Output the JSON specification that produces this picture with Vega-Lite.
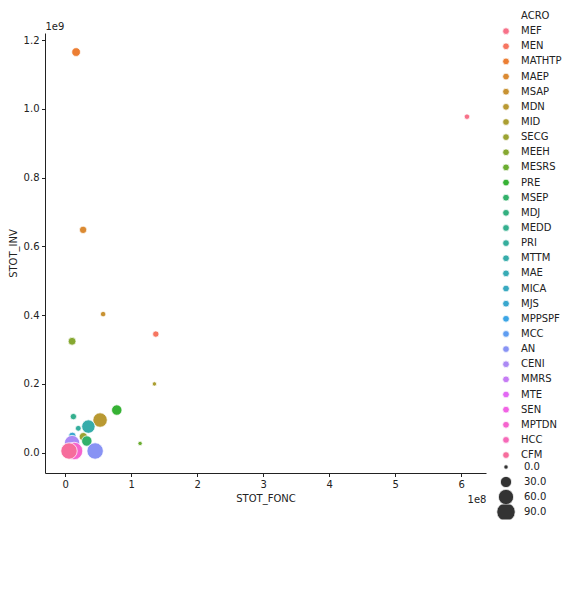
{
  "$schema": "https://vega.github.io/schema/vega-lite/v6.json",
  "width": 441,
  "height": 440,
  "autosize": "none",
  "padding": {"left": 45, "top": 33, "right": 87, "bottom": 125},
  "background": "white",
  "config": {
    "view": {"stroke": null},
    "font": "DejaVu Sans",
    "axis": {
      "grid": false,
      "domainColor": "#222222",
      "domainWidth": 1,
      "tickColor": "#222222",
      "tickWidth": 1,
      "tickSize": 3.5,
      "labelColor": "#222222",
      "labelFont": "DejaVu Sans",
      "labelFontSize": 10,
      "titleColor": "#222222",
      "titleFont": "DejaVu Sans",
      "titleFontSize": 10,
      "titleFontWeight": "normal"
    },
    "legend": {
      "labelFont": "DejaVu Sans",
      "labelFontSize": 10,
      "labelColor": "#222222",
      "padding": 0
    }
  },
  "data": {
    "values": [
      {"ACRO": "MEF", "STOT_FONC": 608600000, "STOT_INV": 977000000, "size": 3},
      {"ACRO": "MEN", "STOT_FONC": 137400000, "STOT_INV": 345000000, "size": 6},
      {"ACRO": "MATHTP", "STOT_FONC": 16700000, "STOT_INV": 1165000000, "size": 16},
      {"ACRO": "MAEP", "STOT_FONC": 27300000, "STOT_INV": 648000000, "size": 10},
      {"ACRO": "MSAP", "STOT_FONC": 57600000, "STOT_INV": 403000000, "size": 3},
      {"ACRO": "MDN", "STOT_FONC": 53000000, "STOT_INV": 95000000, "size": 53},
      {"ACRO": "MID", "STOT_FONC": 135300000, "STOT_INV": 200000000, "size": 0},
      {"ACRO": "SECG", "STOT_FONC": 27700000, "STOT_INV": 46500000, "size": 14},
      {"ACRO": "MEEH", "STOT_FONC": 10600000, "STOT_INV": 324000000, "size": 12},
      {"ACRO": "MESRS", "STOT_FONC": 113600000, "STOT_INV": 27000000, "size": 0},
      {"ACRO": "PRE", "STOT_FONC": 78300000, "STOT_INV": 124000000, "size": 25},
      {"ACRO": "MSEP", "STOT_FONC": 32900000, "STOT_INV": 34000000, "size": 25},
      {"ACRO": "MDJ", "STOT_FONC": 42400000, "STOT_INV": 8000000, "size": 10},
      {"ACRO": "MEDD", "STOT_FONC": 12600000, "STOT_INV": 105000000, "size": 6},
      {"ACRO": "PRI", "STOT_FONC": 20000000, "STOT_INV": 71000000, "size": 4},
      {"ACRO": "MTTM", "STOT_FONC": 35300000, "STOT_INV": 76000000, "size": 45},
      {"ACRO": "MAE", "STOT_FONC": 7600000, "STOT_INV": 31000000, "size": 5},
      {"ACRO": "MICA", "STOT_FONC": 19700000, "STOT_INV": 8000000, "size": 4},
      {"ACRO": "MJS", "STOT_FONC": 11000000, "STOT_INV": 49000000, "size": 10},
      {"ACRO": "MPPSPF", "STOT_FONC": 12100000, "STOT_INV": 19500000, "size": 6},
      {"ACRO": "MCC", "STOT_FONC": 48500000, "STOT_INV": 1000000, "size": 6},
      {"ACRO": "AN", "STOT_FONC": 45500000, "STOT_INV": 5000000, "size": 70},
      {"ACRO": "CENI", "STOT_FONC": 10600000, "STOT_INV": 28000000, "size": 61},
      {"ACRO": "MMRS", "STOT_FONC": 15200000, "STOT_INV": 2000000, "size": 10},
      {"ACRO": "MTE", "STOT_FONC": 12100000, "STOT_INV": 1000000, "size": 8},
      {"ACRO": "SEN", "STOT_FONC": 18200000, "STOT_INV": 8000000, "size": 15},
      {"ACRO": "MPTDN", "STOT_FONC": 13600000, "STOT_INV": 5000000, "size": 80},
      {"ACRO": "HCC", "STOT_FONC": 3000000, "STOT_INV": 2000000, "size": 10},
      {"ACRO": "CFM", "STOT_FONC": 6000000, "STOT_INV": 5000000, "size": 70}
    ]
  },
  "layer": [
    {
      "mark": {"type": "point", "filled": true, "opacity": 1, "stroke": "white", "strokeWidth": 0.75, "shape": "circle"},
      "encoding": {
        "x": {
          "field": "STOT_FONC",
          "type": "quantitative",
          "scale": {"domain": [-30400000, 637400000], "nice": false, "zero": false},
          "axis": {
            "title": "STOT_FONC",
            "orient": "bottom",
            "values": [0, 100000000, 200000000, 300000000, 400000000, 500000000, 600000000],
            "labelExpr": "format(datum.value / 1e8, 'd')",
            "labelPadding": 2.5,
            "titlePadding": 4
          }
        },
        "y": {
          "field": "STOT_INV",
          "type": "quantitative",
          "scale": {"domain": [-59000000, 1220400000], "nice": false, "zero": false},
          "axis": {
            "title": "STOT_INV",
            "orient": "left",
            "values": [0, 200000000, 400000000, 600000000, 800000000, 1000000000, 1200000000],
            "labelExpr": "format(datum.value / 1e9, '.1f')",
            "labelPadding": 2.5,
            "titlePadding": 5
          }
        },
        "color": {
          "field": "ACRO",
          "type": "nominal",
          "scale": {
            "domain": ["ACRO", "MEF", "MEN", "MATHTP", "MAEP", "MSAP", "MDN", "MID", "SECG", "MEEH", "MESRS", "PRE", "MSEP", "MDJ", "MEDD", "PRI", "MTTM", "MAE", "MICA", "MJS", "MPPSPF", "MCC", "AN", "CENI", "MMRS", "MTE", "SEN", "MPTDN", "HCC", "CFM"],
            "range": ["rgba(0,0,0,0)", "#f77189", "#f67560", "#ec7e33", "#db8a32", "#c89232", "#b99932", "#ab9e31", "#9ba331", "#86a831", "#6bad31", "#36b234", "#32b16a", "#33b080", "#34af8e", "#35ae9d", "#36acaa", "#37abb5", "#38a9c0", "#39a7ce", "#3ba5e5", "#5e9df1", "#8893f4", "#ab89f4", "#c67cf4", "#e368f4", "#f163e4", "#f564ce", "#f669b8", "#f66d9c"]
          },
          "legend": {
            "title": null,
            "orient": "none",
            "legendX": 456,
            "legendY": -22,
            "symbolType": "circle",
            "symbolSize": 45,
            "symbolStrokeColor": "white",
            "symbolStrokeWidth": 0.75,
            "labelOffset": 10,
            "rowPadding": 5.14
          }
        },
        "size": {
          "field": "size",
          "type": "quantitative",
          "scale": {"domain": [0, 90], "range": [19, 340], "zero": false},
          "legend": {
            "title": null,
            "orient": "none",
            "legendX": 451,
            "legendY": 426.5,
            "values": [0, 30, 60, 90],
            "format": ".1f",
            "symbolType": "circle",
            "symbolFillColor": "#333333",
            "symbolStrokeColor": "white",
            "symbolStrokeWidth": 0.75,
            "labelOffset": 8,
            "clipHeight": 15,
            "rowPadding": 0
          }
        }
      }
    },
    {
      "mark": {"type": "point", "opacity": 0},
      "encoding": {
        "x": {
          "field": "STOT_FONC",
          "type": "quantitative",
          "axis": {
            "title": "1e8",
            "orient": "bottom",
            "domain": false,
            "ticks": false,
            "labels": false,
            "titleAnchor": "end",
            "titleAlign": "right",
            "titlePadding": 21
          }
        },
        "y": {
          "field": "STOT_INV",
          "type": "quantitative",
          "axis": {
            "title": "1e9",
            "orient": "left",
            "domain": false,
            "ticks": false,
            "labels": false,
            "titleAngle": 0,
            "titleAlign": "left",
            "titleBaseline": "alphabetic",
            "titleX": 0,
            "titleY": -4
          }
        }
      }
    }
  ],
  "resolve": {"axis": {"x": "independent", "y": "independent"}}
}
